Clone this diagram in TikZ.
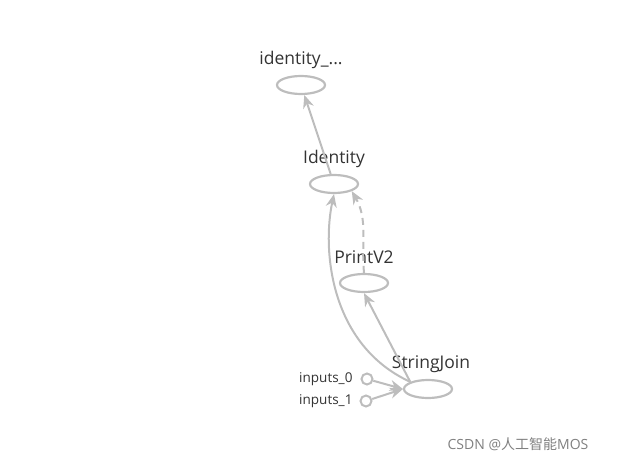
\documentclass[tikz,border=0pt]{standalone}
\usepackage{fontspec}
\setmainfont{Open Sans}
\newfontfamily\cjk{Noto Sans CJK SC}
\usetikzlibrary{arrows.meta}
\definecolor{edgegray}{HTML}{BDBDBD}
\definecolor{txtgray}{HTML}{333333}
\tikzset{
  op/.style={draw=edgegray, line width=2.2pt, ellipse, minimum width=48pt, minimum height=18pt, inner sep=0pt},
  inp/.style={draw=edgegray, line width=2pt, circle, minimum size=11pt, inner sep=0pt},
  lbl/.style={text=txtgray, font=\fontsize{17.5}{20}\selectfont},
  small/.style={text=txtgray, font=\fontsize{13.5}{16}\selectfont},
  flow/.style={draw=edgegray, line width=2pt, -{Stealth[length=13pt,width=11pt]}},
}
\usetikzlibrary{shapes.geometric}
\begin{document}
\begin{tikzpicture}[x=1pt,y=-1pt]
\useasboundingbox (0,0) rectangle (631,465);

\node[op] (idout) at (301,85) {};
\node[op] (ident) at (334,184) {};
\node[op] (print) at (364,283) {};
\node[op] (join) at (428,389) {};
\node[inp] (in0) at (367,379) {};
\node[inp] (in1) at (366,401) {};

\node[lbl] at (301,60) {identity\_...};
\node[lbl] at (334,159) {Identity};
\node[lbl] at (364,257) {PrintV2};
\node[lbl] at (431,364) {StringJoin};
\node[small, anchor=east] at (356,379) {inputs\_0};
\node[small, anchor=east] at (356,401) {inputs\_1};

\draw[flow] (ident) -- (idout);
\draw[flow, dashed, dash pattern=on 7pt off 5pt] (print.north) to[out=95,in=-60] (ident.south east);
\draw[flow] (join.north west) .. controls (330,345) and (322,250) .. (ident.south);
\draw[flow] (join.north west) -- (print.south);
\draw[flow] (in0) -- (join.west);
\draw[flow] (in1) -- (join.west);

\node[text=gray, font=\fontsize{14}{16}\selectfont] at (518,444) {CSDN @{\cjk 人工智能}MOS};
\end{tikzpicture}
\end{document}
